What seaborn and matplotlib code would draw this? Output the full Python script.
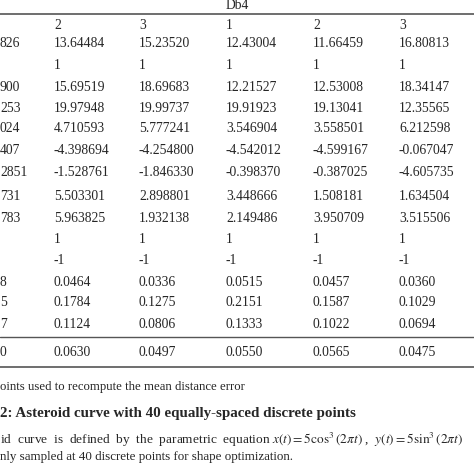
import matplotlib
matplotlib.use("Agg")
import matplotlib.pyplot as plt
import seaborn as sns

sns.set_style("white")
plt.rcParams['font.family'] = ['Liberation Serif', 'DejaVu Serif']
plt.rcParams['mathtext.fontset'] = 'stix'

header = ["", "2", "3", "1", "2", "3"]
col0 = ["826", "", "900", "253", "024", "407", "2851", "731", "783", "", "", "8", "5", "7"]
col1 = ["13.64484", "1", "15.69519", "19.97948", "4.710593", "-4.398694", "-1.528761", "5.503301", "5.963825", "1", "-1", "0.0464", "0.1784", "0.1124"]
col2 = ["15.23520", "1", "18.69683", "19.99737", "5.777241", "-4.254800", "-1.846330", "2.898801", "1.932138", "1", "-1", "0.0336", "0.1275", "0.0806"]
col3 = ["12.43004", "1", "12.21527", "19.91923", "3.546904", "-4.542012", "-0.398370", "3.448666", "2.149486", "1", "-1", "0.0515", "0.2151", "0.1333"]
col4 = ["11.66459", "1", "12.53008", "19.13041", "3.558501", "-4.599167", "-0.387025", "1.508181", "3.950709", "1", "-1", "0.0457", "0.1587", "0.1022"]
col5 = ["16.80813", "1", "18.34147", "12.35565", "6.212598", "-0.067047", "-4.605735", "1.634504", "3.515506", "1", "-1", "0.0360", "0.1029", "0.0694"]
last_row = ["0", "0.0630", "0.0497", "0.0550", "0.0565", "0.0475"]

fig = plt.figure(figsize=(4.74, 4.74), dpi=100)
ax = fig.add_axes([0, 0, 1, 1])
ax.set_xlim(0, 474)
ax.set_ylim(474, 0)
ax.axis("off")

fs = 9.8
col_x = [0, 54, 139, 226, 313, 399]
row_y = [43, 65, 87, 108, 129, 151, 173, 196, 218, 239, 261, 282, 303, 325]
columns = [col0, col1, col2, col3, col4, col5]

ax.text(237, 5, "Db4", ha="center", va="center", fontsize=fs)
ax.plot([0, 474], [14, 14], color="#555555", lw=1.2)
for x, h in zip(col_x, header):
    ax.text(x, 25, h, ha="left", va="center", fontsize=fs)
for x, col in zip(col_x, columns):
    for y, v in zip(row_y, col):
        ax.text(x, y, v, ha="left", va="center", fontsize=fs)
ax.plot([0, 474], [337, 337], color="#555555", lw=1.0)
for x, v in zip(col_x, last_row):
    ax.text(x, 352, v, ha="left", va="center", fontsize=fs)
ax.plot([0, 474], [367, 367], color="#555555", lw=1.2)

ax.text(0, 387, "oints used to recompute the mean distance error", ha="left", va="center", fontsize=fs - 0.6)
ax.text(0, 413, "2: Asteroid curve with 40 equally-spaced discrete points", ha="left", va="center",
        fontsize=fs + 1.0, fontweight="bold")
ax.text(0, 440, r"id  curve  is  defined  by  the  parametric  equation $x(t)=5\cos^3(2\pi t)$ ,  $y(t)=5\sin^3(2\pi t)$",
        ha="left", va="center", fontsize=fs - 0.2)
ax.text(0, 457, "nly sampled at 40 discrete points for shape optimization.", ha="left", va="center", fontsize=fs - 0.4)

fig.savefig("out.png", dpi=100)
